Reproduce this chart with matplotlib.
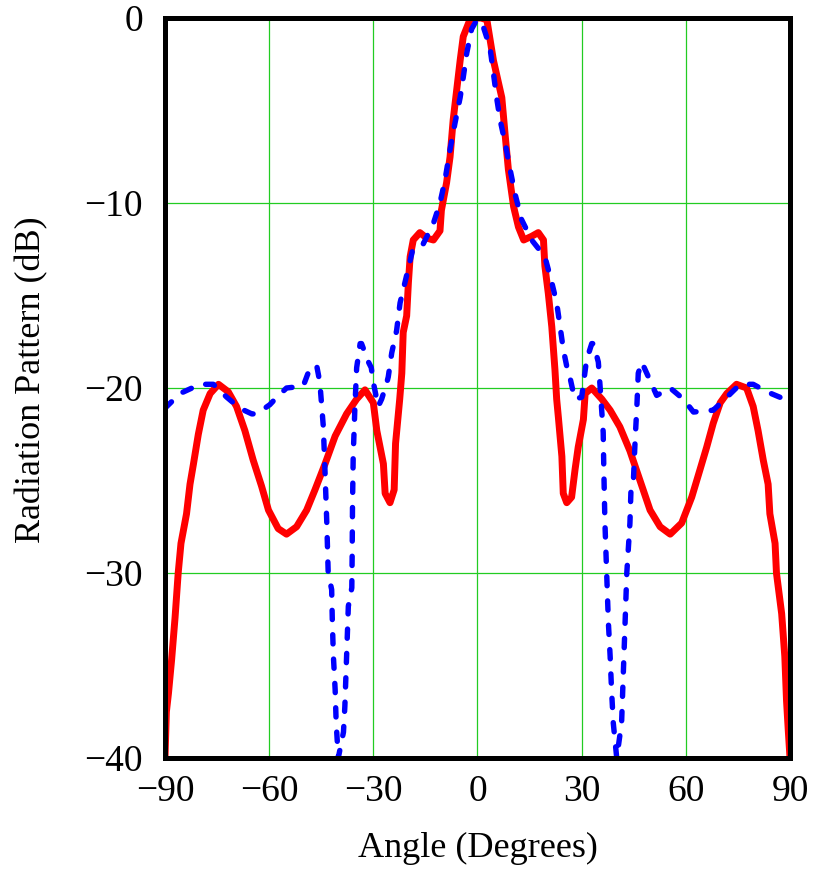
import numpy as np
import matplotlib
matplotlib.use('Agg')
import matplotlib.pyplot as plt

# solid red pattern (angle in degrees, level in dB)
red_ang = [-90.0, -89.6, -89.0, -88.1, -87.1, -86.2, -85.4, -83.8, -82.8, -81.8,
           -80.4, -79.0, -77.0, -74.6, -71.8, -69.4, -67.0, -64.6, -62.2, -60.2,
           -57.4, -55.0, -52.1, -49.2, -46.8, -43.9, -41.0, -37.7, -34.8, -32.4,
           -30.0, -29.0, -27.1, -26.6, -25.2, -24.0, -23.6, -22.4, -21.8, -21.4,
           -20.4, -19.9, -19.4, -18.5, -16.6, -14.6, -12.7, -10.8, -10.4, -8.9,
           -7.9, -7.0, -6.0, -5.0, -4.1, -2.2, -1.0, 1.0, 2.7, 4.6,
           7.0, 8.0, 8.9, 10.4, 11.8, 13.3, 15.6, 17.5, 19.0, 19.4,
           20.4, 21.4, 22.3, 22.8, 23.3, 24.3, 24.7, 25.7, 27.1, 28.1,
           29.0, 30.5, 31.0, 32.9, 35.8, 38.2, 41.0, 43.9, 46.8, 49.7,
           52.6, 55.5, 58.8, 61.7, 64.1, 66.0, 67.9, 69.9, 71.8, 74.6,
           77.5, 79.4, 80.8, 82.3, 83.7, 84.2, 85.7, 86.1, 87.6, 88.5,
           89.0, 89.5, 90.0]
red_db = [-40.0, -37.5, -36.5, -34.7, -32.4, -30.0, -28.4, -26.8, -25.2, -24.1,
          -22.5, -21.2, -20.3, -19.8, -20.2, -21.0, -22.3, -23.9, -25.3, -26.6,
          -27.6, -27.9, -27.5, -26.6, -25.5, -24.1, -22.6, -21.4, -20.6, -20.1,
          -20.8, -22.3, -24.1, -25.7, -26.2, -25.5, -23.0, -20.6, -19.2, -17.0,
          -16.1, -14.3, -12.9, -12.0, -11.6, -11.9, -12.0, -11.5, -10.4, -8.9,
          -7.5, -5.5, -3.9, -2.3, -1.0, -0.1, 0.0, 0.0, -0.1, -2.3,
          -4.3, -6.4, -8.2, -10.2, -11.3, -12.0, -11.8, -11.6, -12.0, -13.4,
          -14.9, -16.7, -19.0, -20.6, -21.6, -23.7, -25.7, -26.2, -25.9, -24.4,
          -23.2, -21.7, -20.3, -20.0, -20.6, -21.2, -22.1, -23.4, -25.0, -26.6,
          -27.5, -27.9, -27.3, -25.9, -24.4, -23.2, -21.9, -20.8, -20.3, -19.8,
          -20.0, -21.0, -22.3, -23.9, -25.2, -26.8, -28.4, -30.0, -32.2, -34.5,
          -36.9, -38.5, -40.0]

# dashed blue pattern
blue_ang = [-90.0, -89.5, -85.7, -79.9, -76.1, -72.2, -68.4, -65.0, -63.6, -59.8,
            -57.8, -55.0, -50.2, -48.2, -46.3, -45.4, -44.4, -43.9, -43.4, -43.0,
            -42.0, -41.8, -41.5, -41.0, -40.7, -40.1, -38.6, -38.2, -37.7, -37.2,
            -36.2, -36.1, -36.0, -35.8, -35.3, -34.8, -33.8, -33.4, -31.4, -30.6,
            -30.0, -28.6, -27.6, -26.1, -25.7, -24.7, -23.3, -22.3, -20.9, -19.5,
            -18.5, -15.6, -12.7, -10.8, -9.4, -7.9, -6.5, -5.0, -4.1, -3.1,
            -1.7, -0.2, 1.2, 3.6, 4.6, 5.5, 6.5, 8.0, 9.4, 10.8,
            12.7, 15.6, 19.4, 21.4, 22.8, 23.8, 24.7, 26.1, 26.6, 28.0,
            30.0, 31.4, 32.9, 33.4, 34.8, 35.3, 36.2, 36.4, 36.7, 37.2,
            37.7, 38.2, 38.6, 39.1, 40.1, 41.5, 42.0, 42.5, 43.0, 43.9,
            44.2, 44.9, 45.4, 45.9, 46.3, 47.3, 49.7, 51.6, 55.5, 59.3,
            62.2, 67.9, 71.8, 75.6, 79.4, 83.3, 87.1, 89.5, 90.0]
blue_db = [-21.1, -21.0, -20.3, -19.8, -19.8, -20.5, -21.1, -21.4, -21.4, -20.9,
           -20.5, -20.0, -19.9, -18.9, -18.8, -19.7, -22.1, -24.6, -27.3, -30.0,
           -30.9, -32.7, -34.5, -36.3, -38.1, -40.0, -38.6, -37.2, -34.5, -31.8,
           -30.8, -29.1, -26.4, -23.7, -21.0, -18.9, -17.6, -17.6, -18.6, -18.9,
           -19.7, -21.0, -20.6, -19.7, -19.4, -18.1, -16.9, -15.4, -14.3, -13.2,
           -12.4, -12.2, -11.1, -10.0, -8.8, -7.1, -5.7, -4.3, -3.2, -1.9,
           -0.6, -0.1, -0.2, -1.6, -3.0, -4.3, -5.5, -6.8, -8.2, -9.5,
           -10.9, -12.0, -12.9, -14.3, -15.4, -16.7, -17.9, -19.2, -19.4, -20.6,
           -20.5, -18.5, -17.6, -17.6, -18.6, -19.9, -22.4, -24.6, -27.3, -30.0,
           -32.7, -34.5, -36.3, -38.1, -40.0, -38.1, -35.4, -32.7, -30.0, -27.3,
           -25.5, -25.0, -22.8, -21.0, -19.2, -18.6, -19.6, -20.4, -20.0, -20.6,
           -21.3, -21.2, -20.5, -19.8, -19.8, -20.2, -20.5, -20.8, -21.0]

xticks = [-90, -60, -30, 0, 30, 60, 90]
yticks = [-40, -30, -20, -10, 0]

plt.rcParams['font.family'] = ['Liberation Serif', 'DejaVu Serif']

fig = plt.figure(figsize=(8.19, 8.88), dpi=100)
ax = fig.add_axes([165 / 819, 1 - 758 / 888, 625 / 819, 740 / 888])

ax.grid(True, color='#22cc22', linewidth=0.9)
ax.set_axisbelow(True)

ax.plot(red_ang, red_db, color='#ff0000', linewidth=5.0, solid_joinstyle='round',
        solid_capstyle='round', zorder=3)
ax.plot(blue_ang, blue_db, color='#0000ff', linewidth=3.9, dashes=(1.7, 2.8),
        dash_capstyle='round', dash_joinstyle='round', zorder=4)

ax.set_xlim(-90, 90)
ax.set_ylim(-40, 0)
ax.set_xticks(xticks)
ax.set_yticks(yticks)
ax.set_xticklabels([str(t).replace('-', '\u2212') for t in xticks])
ax.set_yticklabels([str(t).replace('-', '\u2212') for t in yticks])
ax.tick_params(axis='both', length=0, labelsize=27)
ax.tick_params(axis='x', pad=12)
ax.tick_params(axis='y', pad=16)

for s in ax.spines.values():
    s.set_linewidth(3.6)
    s.set_color('black')
    s.set_zorder(5)

ax.set_xlabel('Angle (Degrees)', fontsize=26, va='center')
ax.set_ylabel('Radiation Pattern (dB)', fontsize=26, va='center')
ax.xaxis.set_label_coords(0.5, -0.122)
ax.yaxis.set_label_coords(-0.214, 0.511)

fig.savefig('out.png', dpi=100)
